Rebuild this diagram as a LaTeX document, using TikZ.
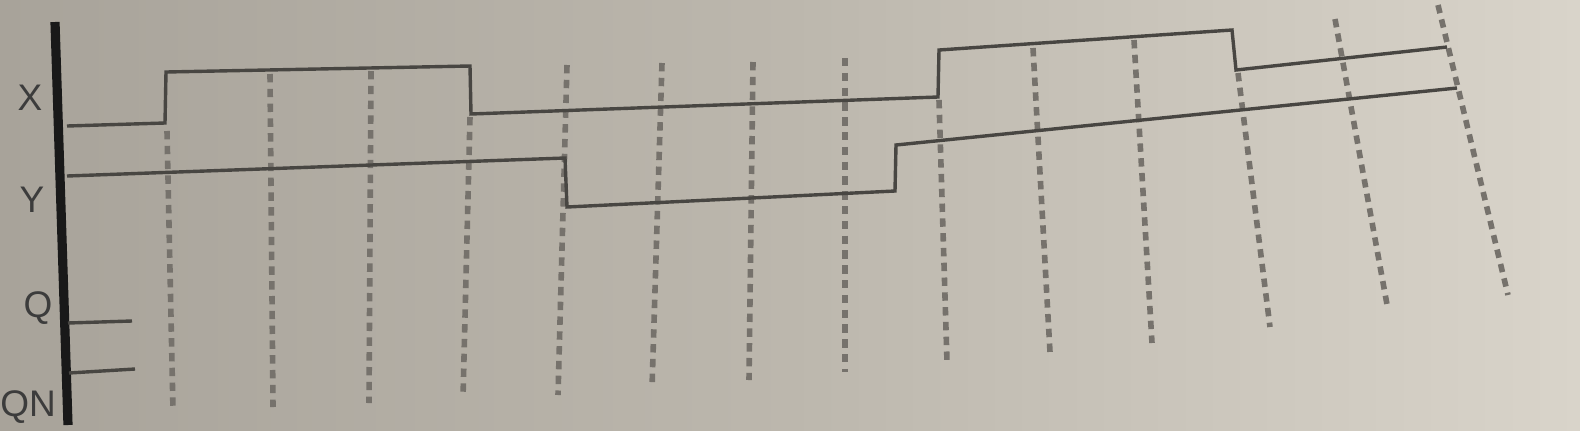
\documentclass[tikz,border=0pt]{standalone}
\usepackage{fontspec}
\setmainfont{Liberation Sans}
\definecolor{paperL}{RGB}{168,163,154}
\definecolor{paperM}{RGB}{188,183,173}
\definecolor{paperR}{RGB}{217,212,202}
\definecolor{ink}{RGB}{72,70,66}
\definecolor{gridc}{RGB}{118,114,108}
\definecolor{lblc}{RGB}{60,60,60}
\tikzset{
  sig/.style={draw=ink, line width=1.7pt, line join=miter},
  gridline/.style={draw=gridc, line width=2.8pt, dash pattern=on 4.2pt off 3.2pt},
  axisline/.style={draw=black!90, line width=4.6pt},
  lbl/.style={text=lblc, font=\fontsize{18.5}{18.5}\selectfont, inner sep=0pt}
}
\begin{document}
\begin{tikzpicture}[x=0.5pt,y=-0.5pt]
\useasboundingbox (0,0) rectangle (1580,430);
\shade[left color=paperL, right color=paperR, middle color=paperM] (0,0) rectangle (1580,430);
% grid lines
\foreach \i/\ax/\ay/\bx/\by in {
  1/167/131/173/410, 2/270/74/273/407, 3/371/71/369/403, 4/470/117/463/398,
  5/567/65/558/395, 6/662/63/652/388, 7/753/62/749/380, 8/845/58/845/372,
  9/939/100/947/362, 10/1033/48/1050/352, 11/1134/40/1152/343,
  12/1238/73/1270/327, 13/1335/19/1388/310, 14/1438/5/1508/295}{
  \coordinate (g\i t) at (\ax,\ay);
  \coordinate (g\i b) at (\bx,\by);
  \draw[gridline] (g\i t) -- (g\i b);
}
% axis
\coordinate (axT) at (55,22);
\coordinate (axB) at (68,425);
\draw[axisline] (axT) -- (axB);
% labels
\node[lbl] (lx) at (30,98) {X};
\node[lbl] (ly) at (32,200) {Y};
\node[lbl] (lq) at (38,308) {Q};
\node[lbl] (lqn) at (28,407) {QN};
% X signal
\draw[sig] (67,126) -- (165,123) -- (166,72) -- (470,66) -- (471,114)
  -- (938,97) -- (939,50) -- (1232,30) -- (1236,70) -- (1447,47);
% Y signal
\draw[sig] (67,176) -- (565,158) -- (567,207) -- (895,191) -- (896,145) -- (1457,88);
% Q and QN stubs
\draw[sig] (68,323) -- (132,321);
\draw[sig] (69,373) -- (135,369);
\end{tikzpicture}
\end{document}
